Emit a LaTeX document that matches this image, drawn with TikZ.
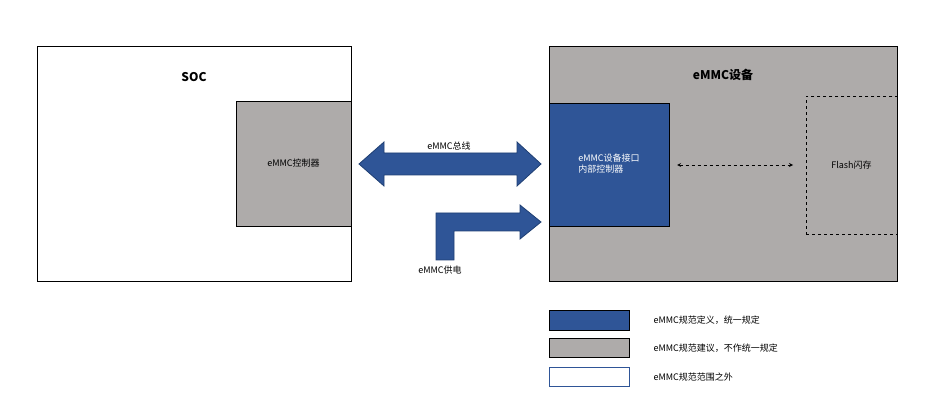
\documentclass[tikz,border=0pt]{standalone}
\usepackage{fontspec}
\setmainfont{Liberation Sans}
\newfontfamily\cjk{Noto Sans CJK SC}
\definecolor{bl}{HTML}{2F5597}
\definecolor{bld}{HTML}{1F3F73}
\definecolor{gr}{HTML}{AEABAA}
\begin{document}
\begin{tikzpicture}[x=1pt,y=-1pt,font=\cjk\fontsize{9}{11}\selectfont,
 box/.style={draw=black,line width=0.8pt},
 arr/.style={fill=bl,draw=bld,line width=0.8pt}]
\useasboundingbox (0,0) rectangle (942,411);
\node[box,fill=white,minimum width=314,minimum height=235,anchor=north west] (soc) at (37,46) {};
\node[font=\cjk\bfseries\fontsize{12}{14}\selectfont] (soct) at (194,77) {SOC};
\node[box,fill=gr,minimum width=115,minimum height=125,anchor=north west] (ctrl) at (236,101) {};
\node (ctrlt) at (293.5,163.5) {eMMC控制器};
\node[box,fill=gr,minimum width=348,minimum height=235,anchor=north west] (dev) at (549,46) {};
\node[font=\cjk\bfseries\fontsize{12}{14}\selectfont] (devt) at (723,75) {eMMC设备};
\node[box,fill=bl,minimum width=120,minimum height=123,anchor=north west] (ifc) at (549,103) {};
\node[text=white,align=left] (ifct) at (609,164) {eMMC设备接口\\内部控制器};
\node[draw=black,dashed,line width=0.8pt,minimum width=91,minimum height=138,anchor=north west] (fl) at (806,96) {};
\node (flt) at (851.5,165) {Flash闪存};
\coordinate (da) at (677,165); \coordinate (db) at (793,165);
\draw[dashed,line width=0.8pt,<->,>=stealth] (da) -- (db);
\draw[arr] (359,164)--(384,142)--(384,153)--(517,153)--(517,142)--(541,164)--(517,186)--(517,175)--(384,175)--(384,186)--cycle;
\node (bus) at (449,146) {eMMC总线};
\draw[arr] (436,260)--(436,213)--(520,213)--(520,205)--(541,222)--(520,239)--(520,231)--(454,231)--(454,260)--cycle;
\node (pwr) at (440,270) {eMMC供电};
\node[draw=black,fill=bl,line width=0.8pt,minimum width=80,minimum height=20,anchor=north west] (l1) at (549,310) {};
\node[anchor=west] (l1t) at (650,320) {eMMC规范定义，统一规定};
\node[draw=black,fill=gr,line width=0.8pt,minimum width=80,minimum height=19,anchor=north west] (l2) at (549,338) {};
\node[anchor=west] (l2t) at (650,348) {eMMC规范建议，不作统一规定};
\node[draw=bl,fill=white,line width=0.8pt,minimum width=80,minimum height=19,anchor=north west] (l3) at (549,367) {};
\node[anchor=west] (l3t) at (650,377) {eMMC规范范围之外};
\end{tikzpicture}
\end{document}
